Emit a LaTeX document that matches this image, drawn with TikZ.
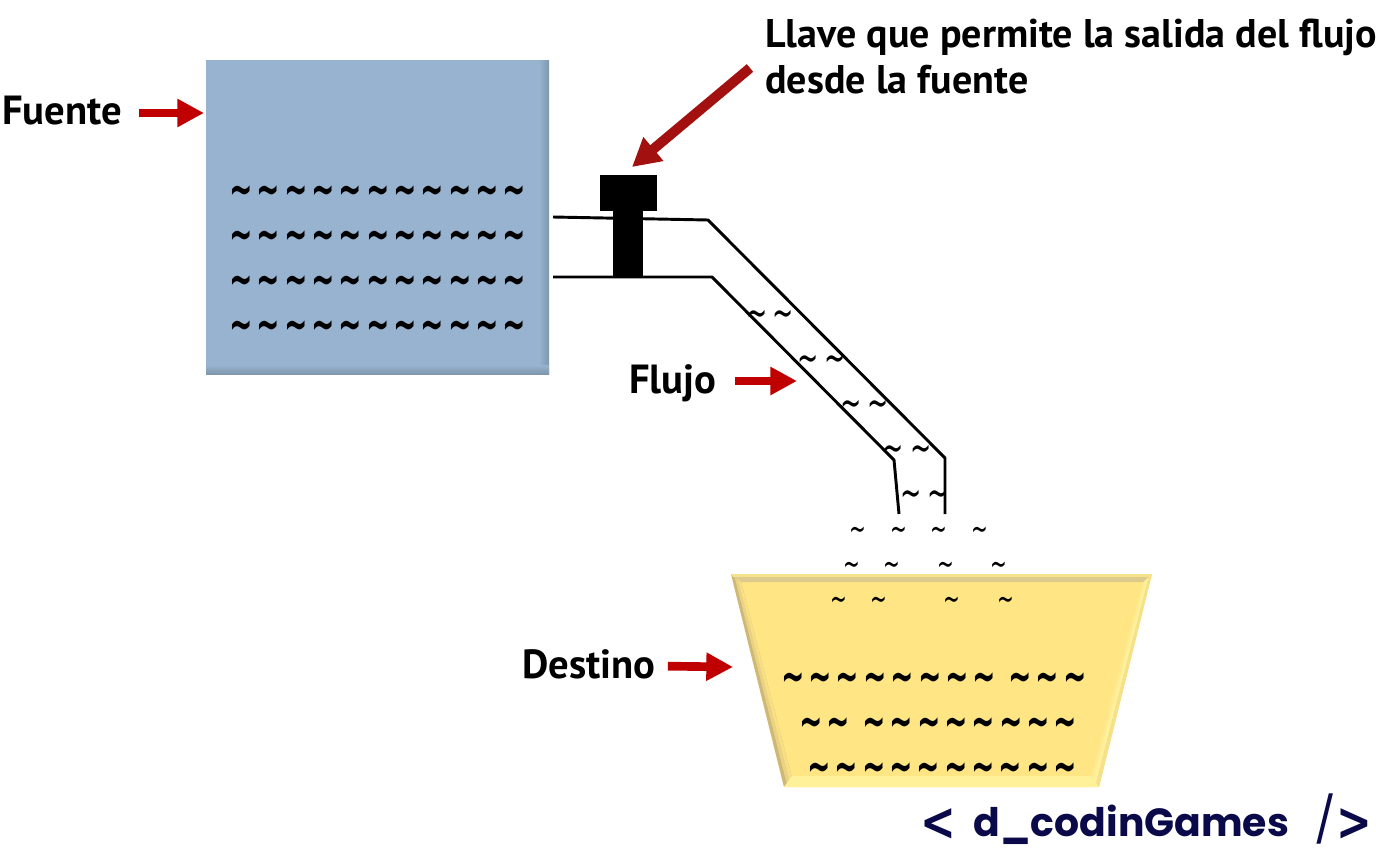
\documentclass[tikz,border=0pt]{standalone}
\usepackage{fontspec}
\setmainfont{PT Sans}
\newfontfamily\tildefont{DejaVu Sans}
\newfontfamily\logofont{Poppins}
\usetikzlibrary{arrows.meta,positioning}
\definecolor{tankblue}{HTML}{98B3CF}
\definecolor{tankedge}{HTML}{7F97AE}
\definecolor{cupyellow}{HTML}{FFE584}
\definecolor{cuptop}{HTML}{DCCB8C}
\definecolor{cuprim}{HTML}{F7E28C}
\definecolor{cupfloor}{HTML}{FFF19A}
\definecolor{cupa}{HTML}{CDB878}
\definecolor{cupb}{HTML}{E9D281}
\definecolor{cupc}{HTML}{F8DF83}
\definecolor{cupd}{HTML}{F6E08A}
\definecolor{cupe}{HTML}{FFF09C}
\definecolor{cupf}{HTML}{FFEA8E}
\definecolor{arrowred}{HTML}{C00000}
\definecolor{arrowdark}{HTML}{A31010}
\definecolor{logonavy}{HTML}{0A0A4A}
\newcommand{\logochevron}[1]{\raisebox{-3pt}{\scalebox{0.8}[1]{\tildefont\bfseries\fontsize{40}{40}\selectfont#1}}}

\begin{document}
\begin{tikzpicture}[x=0.75pt,y=-0.75pt,
    lbl/.style={inner sep=0pt,anchor=west,text height=18pt,text depth=0pt,font=\bfseries\fontsize{30.5}{30.5}\selectfont},
    redarrow/.style={arrowred,line width=6.5pt,-{Triangle[length=20pt,width=20pt]}},
    pipe/.style={line width=2.2pt,line join=round},
    tilde/.style={inner sep=0pt,yscale=1.7,transform shape,yshift=-2.4pt,font=\tildefont\bfseries\fontsize{21}{21}\selectfont},
    tildemid/.style={inner sep=0pt,yscale=1.7,transform shape,yshift=-2.2pt,font=\tildefont\fontsize{19}{19}\selectfont},
    tildesmall/.style={inner sep=0pt,yscale=1.7,transform shape,yshift=-1.8pt,font=\tildefont\fontsize{15}{15}\selectfont}]
      \useasboundingbox (0,0) rectangle (1376,852);

      % tank
      \fill[tankblue] (206,60) rectangle (549,375);
      \shade[left color=tankblue,right color=tankedge] (539,61) rectangle (549,374);
      \shade[top color=tankblue,bottom color=tankedge] (206,365) rectangle (549,374);
      \coordinate (tankin) at (204,113);
      \foreach \y in {190,235,280,325}
        \foreach \x in {241,268,296,323,350,378,405,432,460,487,514}
          \node[tilde] (t\x-\y) at (\x,\y) {\textasciitilde};

      % cup
      \fill[cupyellow] (731,574) -- (1152,574) -- (1099,787) -- (784,787) -- cycle;
      \foreach \t/\c in {0/cupa,0.35/cupb,0.7/cupc}
        \fill[\c] ({731+10*\t},{574+8*\t}) -- (741,582) -- (792,778) -- ({784+8*\t},{787-9*\t}) -- cycle;
      \foreach \t/\c in {0/cupd,0.4/cupe,0.75/cupf}
        \fill[\c] ({1152-9*\t},{574+8*\t}) -- (1143,582) -- (1091,778) -- ({1099-8*\t},{787-9*\t}) -- cycle;
      \fill[cupfloor] (784,787) -- (792,776) -- (1091,776) -- (1099,787) -- cycle;
      \fill[cuptop] (731,574) -- (1152,574) -- (1143,582) -- (741,582) -- cycle;
      \fill[cuprim] (731,574) -- (1152,574) -- (1150,577) -- (733,577) -- cycle;
      \coordinate (cupin) at (733,667);
      \foreach \x in {793,820,847,875,902,930,957,984,1020,1047,1075}
        \node[tilde] (a\x) at (\x,677) {\textasciitilde};
      \foreach \x in {811,838,874,901,929,956,983,1011,1038,1065}
        \node[tilde] (b\x) at (\x,722) {\textasciitilde};
      \foreach \x in {819,846,874,901,928,956,983,1010,1038,1065}
        \node[tilde] (c\x) at (\x,767) {\textasciitilde};

      % pipe
      \coordinate (p1) at (553,217);
      \coordinate (p2) at (708,220);
      \coordinate (p3) at (945,458);
      \coordinate (p4) at (945,514);
      \coordinate (q1) at (553,277);
      \coordinate (q2) at (712,277);
      \coordinate (q3) at (894,460);
      \coordinate (q4) at (899,514);
      \draw[pipe] (p1) -- (p2) -- (p3) -- (p4);
      \draw[pipe] (q1) -- (q2) -- (q3) -- (q4);
      \fill (600,175) rectangle (657,211);
      \fill (613,211) rectangle (643,277);
      \coordinate (llave) at (632,167);
      \coordinate (pipein) at (797,381);

      \foreach \x/\y in {757/314,783/314,808/359,835/359,851/404,878/404,893/449,921/449,911/494,938/494}
        \node[tildemid] (f\x) at (\x,\y) {\textasciitilde};
      \foreach \x/\y in {858/530,899/530,939/530,980/530,852/565,892/565,946/565,999/565,839/600,879/600,952/600,1006/600}
        \node[tildesmall] (d\x) at (\x,\y) {\textasciitilde};

      % labels
      \node[lbl] (fuente)  at (2,113)   {Fuente};
      \node[lbl] (flujo)   at (629,381) {Flujo};
      \node[lbl] (destino) at (522,666) {Destino};
      \node[inner sep=0pt,anchor=north west,align=left,font=\bfseries\fontsize{30}{34.5}\selectfont] (llavetxt) at (765,19)
        {Llave que permite la salida del flujo\\desde la fuente};
      \node[inner sep=0pt,anchor=base east,text=logonavy,font=\logofont\bfseries\fontsize{29.5}{29.5}\selectfont] (logo) at (1372,836)
        {\logochevron{<}\hspace{13pt}d\_codinGames\hspace{19pt}{\mdseries\fontsize{34}{34}\selectfont/}\logochevron{>}};

      \draw[redarrow,shorten <=12pt] (fuente.east) -- (tankin);
      \draw[redarrow,shorten <=14pt] (flujo.east) -- (pipein);
      \draw[redarrow,shorten <=9pt] (destino.east) -- (cupin);
      \coordinate (llavetail) at (750,68);
      \draw[arrowdark,line width=7.5pt,-{Triangle[length=21pt,width=22pt]}] (llavetail) -- (llave);
\end{tikzpicture}
\end{document}
